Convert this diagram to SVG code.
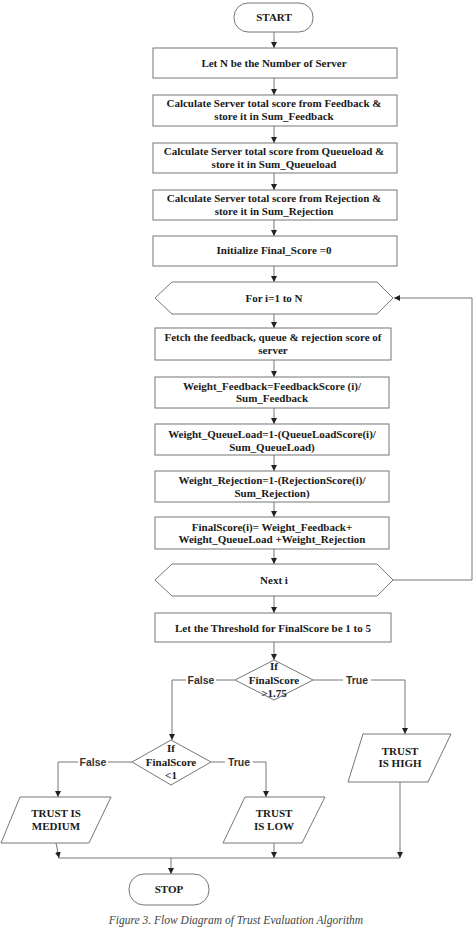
<svg xmlns="http://www.w3.org/2000/svg" width="474" height="927" viewBox="0 0 474 927">
<defs>
<marker id="ah" markerWidth="6" markerHeight="6" refX="6" refY="3" orient="auto" markerUnits="userSpaceOnUse">
<path d="M0,0 L6,3 L0,6 z" fill="#222"/>
</marker>
<style>
.s{fill:#fff;stroke:#777;stroke-width:1}
.t{font-family:"Liberation Serif","Times New Roman",serif;font-weight:bold;font-size:11px;fill:#1a1a1a;text-anchor:middle}
.l{font-family:"Liberation Sans",Arial,sans-serif;font-weight:bold;font-size:10.5px;fill:#333;text-anchor:middle}
.c{fill:none;stroke:#777;stroke-width:1}
.a{fill:none;stroke:#777;stroke-width:1;marker-end:url(#ah)}
.cap{font-family:"Liberation Serif","Times New Roman",serif;font-style:italic;font-size:11.5px;fill:#444;text-anchor:middle}
</style>
</defs>
<rect width="474" height="927" fill="#fff"/>
<g id="connectors">
<path class="a" d="M274,32 V48"/>
<path class="a" d="M274,78 V95"/>
<path class="a" d="M274,126 V143"/>
<path class="a" d="M274,173 V190"/>
<path class="a" d="M274,220 V236"/>
<path class="a" d="M274,266 V282"/>
<path class="a" d="M274,314 V328"/>
<path class="a" d="M274,360 V377"/>
<path class="a" d="M274,408 V424"/>
<path class="a" d="M274,455 V471"/>
<path class="a" d="M274,502 V517"/>
<path class="a" d="M274,549 V564"/>
<path class="a" d="M274,596 V613"/>
<path class="a" d="M274,642 V660"/>
<path class="a" d="M393,580 H472 V298 H394"/>
<path class="a" d="M235,680 H172 V740"/>
<path class="a" d="M313,680 H405 V734"/>
<path class="a" d="M132,762 H58 V797"/>
<path class="a" d="M211,762 H266 V797"/>
<path class="c" d="M58,858 H400"/>
<path class="a" d="M56,843 L59,858"/>
<path class="a" d="M274,843 V858"/>
<path class="a" d="M400,782 V858"/>
<path class="a" d="M171,858 V874"/>
<rect x="186" y="674" width="30" height="12" fill="#fff"/>
<text class="l" x="201" y="684">False</text>
<rect x="343" y="674" width="28" height="12" fill="#fff"/>
<text class="l" x="357" y="684">True</text>
<rect x="78" y="756" width="30" height="12" fill="#fff"/>
<text class="l" x="93" y="766">False</text>
<rect x="225" y="756" width="28" height="12" fill="#fff"/>
<text class="l" x="239" y="766">True</text>
</g>
<g id="start">
<rect class="s" x="234" y="3" width="79" height="29" rx="14" ry="14"/>
<text class="t" x="274" y="21">START</text>
</g>
<g id="n1">
<rect class="s" x="153" y="48" width="244" height="30"/>
<text class="t" x="274" y="67">Let N be the Number of Server</text>
</g>
<g id="n2">
<rect class="s" x="153" y="95" width="244" height="31"/>
<text class="t" x="274" y="107">Calculate Server total score from Feedback &amp;</text>
<text class="t" x="274" y="120">store it in Sum_Feedback</text>
</g>
<g id="n3">
<rect class="s" x="153" y="143" width="244" height="30"/>
<text class="t" x="274" y="155">Calculate Server total score from Queueload &amp;</text>
<text class="t" x="274" y="168">store it in Sum_Queueload</text>
</g>
<g id="n4">
<rect class="s" x="153" y="190" width="244" height="30"/>
<text class="t" x="274" y="202">Calculate Server total score from Rejection &amp;</text>
<text class="t" x="274" y="215">store it in Sum_Rejection</text>
</g>
<g id="n5">
<rect class="s" x="153" y="236" width="244" height="30"/>
<text class="t" x="274" y="254">Initialize Final_Score =0</text>
</g>
<g id="for">
<path class="s" d="M155,298 L172,282 H377 L393,298 L377,314 H172 Z"/>
<text class="t" x="274" y="302">For i=1 to N</text>
</g>
<g id="fetch">
<rect class="s" x="155" y="328" width="236" height="32"/>
<text class="t" x="273" y="341">Fetch the feedback, queue &amp; rejection score of</text>
<text class="t" x="273" y="354">server</text>
</g>
<g id="wf">
<rect class="s" x="155" y="377" width="234" height="31"/>
<text class="t" x="272" y="390">Weight_Feedback=FeedbackScore (i)/</text>
<text class="t" x="272" y="402">Sum_Feedback</text>
</g>
<g id="wq">
<rect class="s" x="155" y="424" width="234" height="31"/>
<text class="t" x="272" y="438">Weight_QueueLoad=1-(QueueLoadScore(i)/</text>
<text class="t" x="272" y="451">Sum_QueueLoad)</text>
</g>
<g id="wr">
<rect class="s" x="155" y="471" width="234" height="31"/>
<text class="t" x="272" y="484">Weight_Rejection=1-(RejectionScore(i)/</text>
<text class="t" x="272" y="497">Sum_Rejection)</text>
</g>
<g id="fs">
<rect class="s" x="155" y="517" width="234" height="32"/>
<text class="t" x="272" y="531">FinalScore(i)= Weight_Feedback+</text>
<text class="t" x="272" y="543">Weight_QueueLoad +Weight_Rejection</text>
</g>
<g id="next">
<path class="s" d="M155,580 L172,564 H377 L393,580 L377,596 H172 Z"/>
<text class="t" x="274" y="584">Next i</text>
</g>
<g id="thr">
<rect class="s" x="155" y="613" width="236" height="29"/>
<text class="t" x="273" y="632">Let the Threshold for FinalScore be 1 to 5</text>
</g>
<g id="d1">
<path class="s" d="M274,660 L313,680 L274,700 L235,680 Z"/>
<text class="t" x="274" y="670">If</text>
<text class="t" x="274" y="684">FinalScore</text>
<text class="t" x="274" y="697">&gt;1.75</text>
</g>
<g id="d2">
<path class="s" d="M171,740 L211,762 L171,785 L132,762 Z"/>
<text class="t" x="171" y="752">If</text>
<text class="t" x="171" y="766">FinalScore</text>
<text class="t" x="171" y="779">&lt;1</text>
</g>
<g id="high">
<path class="s" d="M363,734 H451 L428,782 H348 Z"/>
<text class="t" x="400" y="755">TRUST</text>
<text class="t" x="400" y="767">IS HIGH</text>
</g>
<g id="medium">
<path class="s" d="M20,797 H111 L89,843 H1 Z"/>
<text class="t" x="56" y="817">TRUST IS</text>
<text class="t" x="56" y="830">MEDIUM</text>
</g>
<g id="low">
<path class="s" d="M245,797 H325 L302,843 H223 Z"/>
<text class="t" x="274" y="817">TRUST</text>
<text class="t" x="274" y="830">IS LOW</text>
</g>
<g id="stop">
<rect class="s" x="129" y="874" width="80" height="31" rx="15" ry="15"/>
<text class="t" x="169" y="893">STOP</text>
</g>
<text class="cap" x="236" y="924">Figure 3. Flow Diagram of Trust Evaluation Algorithm</text>
</svg>
